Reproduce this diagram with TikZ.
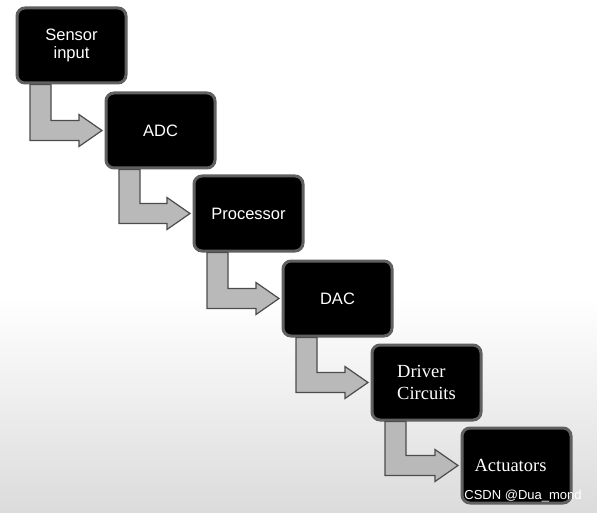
\documentclass[tikz,border=0pt]{standalone}
\usepackage{fontspec}
\newfontfamily\arialfont{Liberation Sans}
\newfontfamily\timesfont{Liberation Serif}
\usetikzlibrary{calc}

\begin{document}
\begin{tikzpicture}[
    x=1pt, y=-1pt,
    stage/.style={draw=gray!75!black, line width=3pt, fill=black, rounded corners=8pt,
        minimum width=109pt, minimum height=75pt, outer sep=0pt, anchor=north west,
        text=white, inner sep=2pt},
    sanslabel/.style={font=\arialfont\fontsize{16.5}{18}\selectfont, align=center},
    seriflabel/.style={font=\timesfont\fontsize{18.5}{22}\selectfont, align=left},
    elbow/.style={fill=gray!55, draw=gray!60!black, line width=1.2pt, line join=miter}
]

    % --- Background ---
    \useasboundingbox (0,0) rectangle (597,513);
    \fill[white] (0,0) rectangle (597,300);
    \shade[top color=white, bottom color=gray!28] (0,299) rectangle (597,513);

    % --- Stages ---
    \node[stage, sanslabel] (sensor) at (17,8) {Sensor\\input};
    \node[stage, sanslabel] (adc) at (106,93) {ADC};
    \node[stage, sanslabel] (proc) at (194,176) {Processor};
    \node[stage, sanslabel] (dac) at (283,261) {DAC};
    \node[stage, seriflabel] (driver) at (372,345) {Driver\\Circuits};
    \node[stage, seriflabel] (act) at (462,428) {\hspace*{-12pt}Actuators};

    % --- Bent arrows between stages ---
    \foreach \a/\b in {sensor/adc, adc/proc, proc/dac, dac/driver, driver/act} {
        \draw[elbow] ($(\a.south west)+(13,1.5)$) -- ($(\a.south west |- \b.west)+(13,10)$)
            -- ($(\b.west)+(-27,10)$) -- ($(\b.west)+(-27,16)$) -- ($(\b.west)+(-4,0)$)
            -- ($(\b.west)+(-27,-16)$) -- ($(\b.west)+(-27,-10)$)
            -- ($(\a.south west |- \b.west)+(34,-10)$) -- ($(\a.south west)+(34,1.5)$) -- cycle;
    }

    % --- Watermark ---
    \node[font=\arialfont\fontsize{13}{15}\selectfont, text=white] (mark) at (523,496) {CSDN @Dua\_mond};

\end{tikzpicture}
\end{document}
